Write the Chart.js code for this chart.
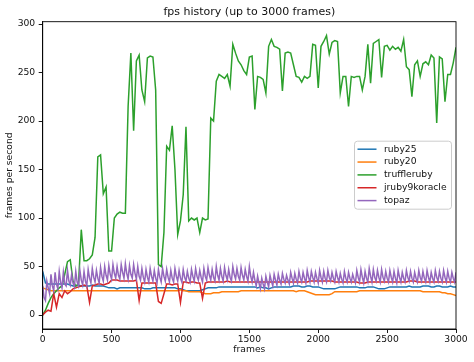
<!DOCTYPE html>
<html><head><meta charset="utf-8">
<script src="https://cdn.jsdelivr.net/npm/chart.js@4/dist/chart.umd.min.js"></script>
<style>html,body{margin:0;padding:0;background:#fff}</style>
</head><body>
<canvas id="c" width="474" height="362"></canvas>
<script>
const TITLE = 'fps history (up to 3000 frames)';
const X_TITLE = 'frames';
const Y_TITLE = 'frames per second';

const xTicks = [0, 500, 1000, 1500, 2000, 2500, 3000];
const yTicks = [0, 50, 100, 150, 200, 250, 300];

const seriesNames = ["ruby25", "ruby20", "truffleruby", "jruby9koracle", "topaz"];
const seriesColors = ["#1f77b4", "#ff7f0e", "#2ca02c", "#d62728", "#9467bd"];

// readings every 20 frames (0..3000)
const ruby25 = [
  45,33,32,32,32,32,32,32,32,32,
  31,30,30,31,30,30,30,30,31,30,
  30,30,30,29,28,28,28,27,28,28,
  28,28,28,28,28,28,28,27,27,27,
  28,28,28,28,28,28,28,28,28,27,
  27,26,25,25,25,25,25,25,26,27,
  28,28,28,28,29,29,29,29,29,29,
  29,29,29,29,29,29,29,29,28,29,
  28,28,27,28,29,29,29,29,29,29,
  29,30,30,30,29,29,30,30,29,29,
  29,28,27,27,27,27,27,28,29,29,
  29,29,29,29,29,28,28,28,29,29,
  29,28,27,27,27,28,29,29,29,29,
  29,29,29,30,29,29,29,29,30,30,
  30,29,29,30,30,29,29,29,30,29,
  29];

const ruby20 = [
  28,27,26,25,25,25,25,25,25,25,
  25,25,25,25,25,25,25,25,25,25,
  25,25,25,25,25,25,25,25,25,25,
  25,25,25,25,25,25,25,25,25,25,
  25,25,25,25,25,25,25,25,25,25,
  26,25,25,24,24,24,24,24,23,22,
  22,22,23,23,23,24,24,24,24,24,
  24,24,25,25,25,25,25,25,25,25,
  25,25,25,25,25,25,25,25,25,25,
  25,25,24,25,25,25,24,23,22,21,
  21,21,21,21,21,22,24,24,24,24,
  24,24,24,24,24,25,25,25,25,25,
  25,25,25,25,25,25,25,25,25,25,
  25,25,25,25,25,25,25,25,24,24,
  24,24,24,24,24,23,23,22,22,21,
  20];

const truffleruby = [
  0,5,12,18,22,25,28,30,42,55,
  57,35,30,32,88,56,56,58,62,80,
  163,165,125,132,66,66,100,104,106,105,
  105,215,270,190,262,268,232,220,265,267,
  266,232,52,50,85,174,170,195,150,83,
  97,124,194,97,100,98,100,85,100,98,
  99,203,200,241,248,246,244,248,236,279,
  270,262,258,252,248,266,267,212,246,245,
  243,229,277,284,277,276,274,231,270,271,
  270,258,246,245,240,246,244,246,279,278,
  234,277,282,288,269,281,283,282,229,246,
  246,215,246,245,246,246,232,246,279,239,
  280,282,284,245,277,278,273,277,274,276,
  272,284,256,253,225,258,262,246,259,261,
  258,268,265,198,266,264,220,248,248,260,
  276];

const jruby9koracle = [
  0,3,5,4,22,8,22,18,25,22,
  24,27,28,29,30,31,30,13,30,31,
  32,32,31,32,33,36,36,36,35,35,
  35,35,35,35,36,15,33,33,33,33,
  33,33,14,12,22,32,32,31,32,32,
  13,34,34,33,34,34,33,33,17,33,
  34,34,34,34,34,34,34,35,34,34,
  34,34,34,34,34,34,34,34,34,34,
  34,34,34,34,34,34,34,34,34,34,
  34,34,34,34,34,34,34,35,35,35,
  35,35,35,35,35,35,34,34,34,34,
  34,34,34,34,34,33,33,33,34,34,
  34,34,34,34,34,34,34,34,34,34,
  34,34,34,35,35,35,34,34,34,34,
  34,34,34,34,34,34,34,34,34,34,
  34];

// readings every 10 frames (0..3000)
const topaz = [
  30,18,15, 35,28,22, 42,30,25, 44,32,27,
  45,34,28, 44,32,30, 46,35,31, 42,33,29, 45,34,30, 46,36,31,
  45,35,30, 47,38,33, 48,39,34, 46,38,33, 49,40,35,
  50,41,36, 51,42,37, 52,43,38, 50,41,37, 52,44,38, 53,43,37, 51,42,38, 52,43,37, 50,40,36,
  48,39,34, 47,39,34, 48,40,35, 46,38,33, 47,39,34, 48,40,35, 47,39,34, 46,38,34, 48,40,35, 46,38,34,
  47,39,35, 45,38,34, 47,40,35, 48,40,36, 46,39,34, 48,40,36, 49,41,36, 47,39,35,
  50,41,36, 48,40,35, 49,41,36, 47,39,35, 50,42,37, 48,40,36, 49,41,36, 47,40,35,
  50,40,34, 44,36,30, 40,33,27, 38,32,27, 40,34,29, 41,35,30, 42,36,31,
  42,36,32, 43,37,33, 41,36,32, 44,38,33, 43,37,33, 45,38,34, 44,38,33, 46,39,34,
  45,39,34, 44,38,33, 46,39,34, 45,38,34, 46,39,35, 44,38,34, 45,39,34, 43,37,33,
  45,38,34, 44,38,34, 42,37,33, 46,39,34, 47,39,33, 45,38,34, 48,40,34, 47,39,35,
  46,39,34, 47,39,35, 45,38,34, 46,39,34, 45,38,33, 46,39,34, 44,38,34, 46,39,35,
  45,38,34, 44,38,34, 46,39,35, 45,38,34, 46,39,34, 44,38,34, 46,39,35, 45,38,34,
  46,39,34, 45,38,34, 44,38,34,
  44];

const seriesValues = [ruby25, ruby20, truffleruby, jruby9koracle, topaz];
const seriesStep = [20, 20, 20, 20, 10];

const FONT = "'DejaVu Sans', sans-serif";
const TXT = "#111";
const FS = 9.2;

const datasets = seriesNames.map((name, k) => ({
  label: name,
  data: seriesValues[k].map((v, i) => ({x: i * seriesStep[k], y: v})),
  borderColor: seriesColors[k],
  backgroundColor: seriesColors[k],
  borderWidth: 1.5,
  pointRadius: 0,
  tension: 0,
  fill: false,
  order: seriesNames.length - 1 - k
}));

const titlePlugin = {
  id: 'axTitle',
  afterDraw(chart) {
    const a = chart.chartArea, ctx = chart.ctx;
    ctx.save();
    ctx.font = "11px " + FONT;
    ctx.fillStyle = TXT;
    ctx.textAlign = 'center';
    ctx.textBaseline = 'middle';
    ctx.fillText(TITLE, (a.left + a.right) / 2, 11.7);
    ctx.restore();
  }
};

const framePlugin = {
  id: 'frame',
  afterDatasetsDraw(chart) {
    const a = chart.chartArea, ctx = chart.ctx;
    ctx.save();
    ctx.strokeStyle = '#000';
    ctx.lineWidth = 0.9;
    ctx.strokeRect(a.left, a.top, a.right - a.left, a.bottom - a.top);
    ctx.restore();
  }
};

const legendPlugin = {
  id: 'boxLegend',
  afterDraw(chart) {
    const a = chart.chartArea, ctx = chart.ctx;
    const bx = a.right - 101.5, by = a.top + 119.5, bw = 97, bh = 68, r = 3;
    ctx.save();
    ctx.beginPath();
    ctx.moveTo(bx + r, by);
    ctx.arcTo(bx + bw, by, bx + bw, by + bh, r);
    ctx.arcTo(bx + bw, by + bh, bx, by + bh, r);
    ctx.arcTo(bx, by + bh, bx, by, r);
    ctx.arcTo(bx, by, bx + bw, by, r);
    ctx.closePath();
    ctx.fillStyle = 'rgba(255,255,255,0.8)';
    ctx.fill();
    ctx.strokeStyle = '#cccccc';
    ctx.lineWidth = 1;
    ctx.stroke();
    ctx.font = FS + "px " + FONT;
    ctx.textBaseline = 'middle';
    ctx.textAlign = 'left';
    chart.data.datasets.forEach((ds, i) => {
      const y = by + 8 + i * 12.85;
      ctx.strokeStyle = ds.borderColor;
      ctx.lineWidth = 1.5;
      ctx.beginPath();
      ctx.moveTo(bx + 3, y);
      ctx.lineTo(bx + 22, y);
      ctx.stroke();
      ctx.fillStyle = TXT;
      ctx.fillText(ds.label, bx + 29.5, y);
    });
    ctx.restore();
  }
};

new Chart(document.getElementById('c'), {
  type: 'line',
  data: {datasets},
  plugins: [framePlugin, titlePlugin, legendPlugin],
  options: {
    responsive: false,
    animation: false,
    devicePixelRatio: 1,
    layout: {padding: {left: 0, right: 18, top: 21.7, bottom: 0}},
    plugins: {
      legend: {display: false},
      tooltip: {enabled: false},
      title: {display: false}
    },
    scales: {
      x: {
        type: 'linear',
        min: 0, max: 3000,
        afterBuildTicks: s => { s.ticks = xTicks.map(v => ({value: v})); },
        afterFit: s => { s.height = 33; },
        border: {display: true, color: '#000', width: 0.9},
        grid: {display: true, drawOnChartArea: false, drawTicks: true, tickLength: 4, color: '#000', lineWidth: 0.9},
        ticks: {color: TXT, font: {family: FONT, size: FS}, padding: 1, maxRotation: 0, autoSkip: false, callback: v => String(v)},
        title: {display: true, text: X_TITLE, color: TXT, font: {family: FONT, size: FS}, padding: {top: 0, bottom: 6.5}}
      },
      y: {
        type: 'linear',
        min: -14.4, max: 302.4,
        afterBuildTicks: s => { s.ticks = yTicks.map(v => ({value: v})); },
        afterFit: s => { s.width = 42.7; },
        border: {display: true, color: '#000', width: 0.9},
        grid: {display: true, drawOnChartArea: false, drawTicks: true, tickLength: 4, color: '#000', lineWidth: 0.9},
        ticks: {color: TXT, font: {family: FONT, size: FS}, padding: 3.5, autoSkip: false, callback: v => String(v)},
        title: {display: true, text: Y_TITLE, color: TXT, font: {family: FONT, size: FS}, padding: {top: 4.5, bottom: 0}}
      }
    }
  }
});
</script>
</body></html>
